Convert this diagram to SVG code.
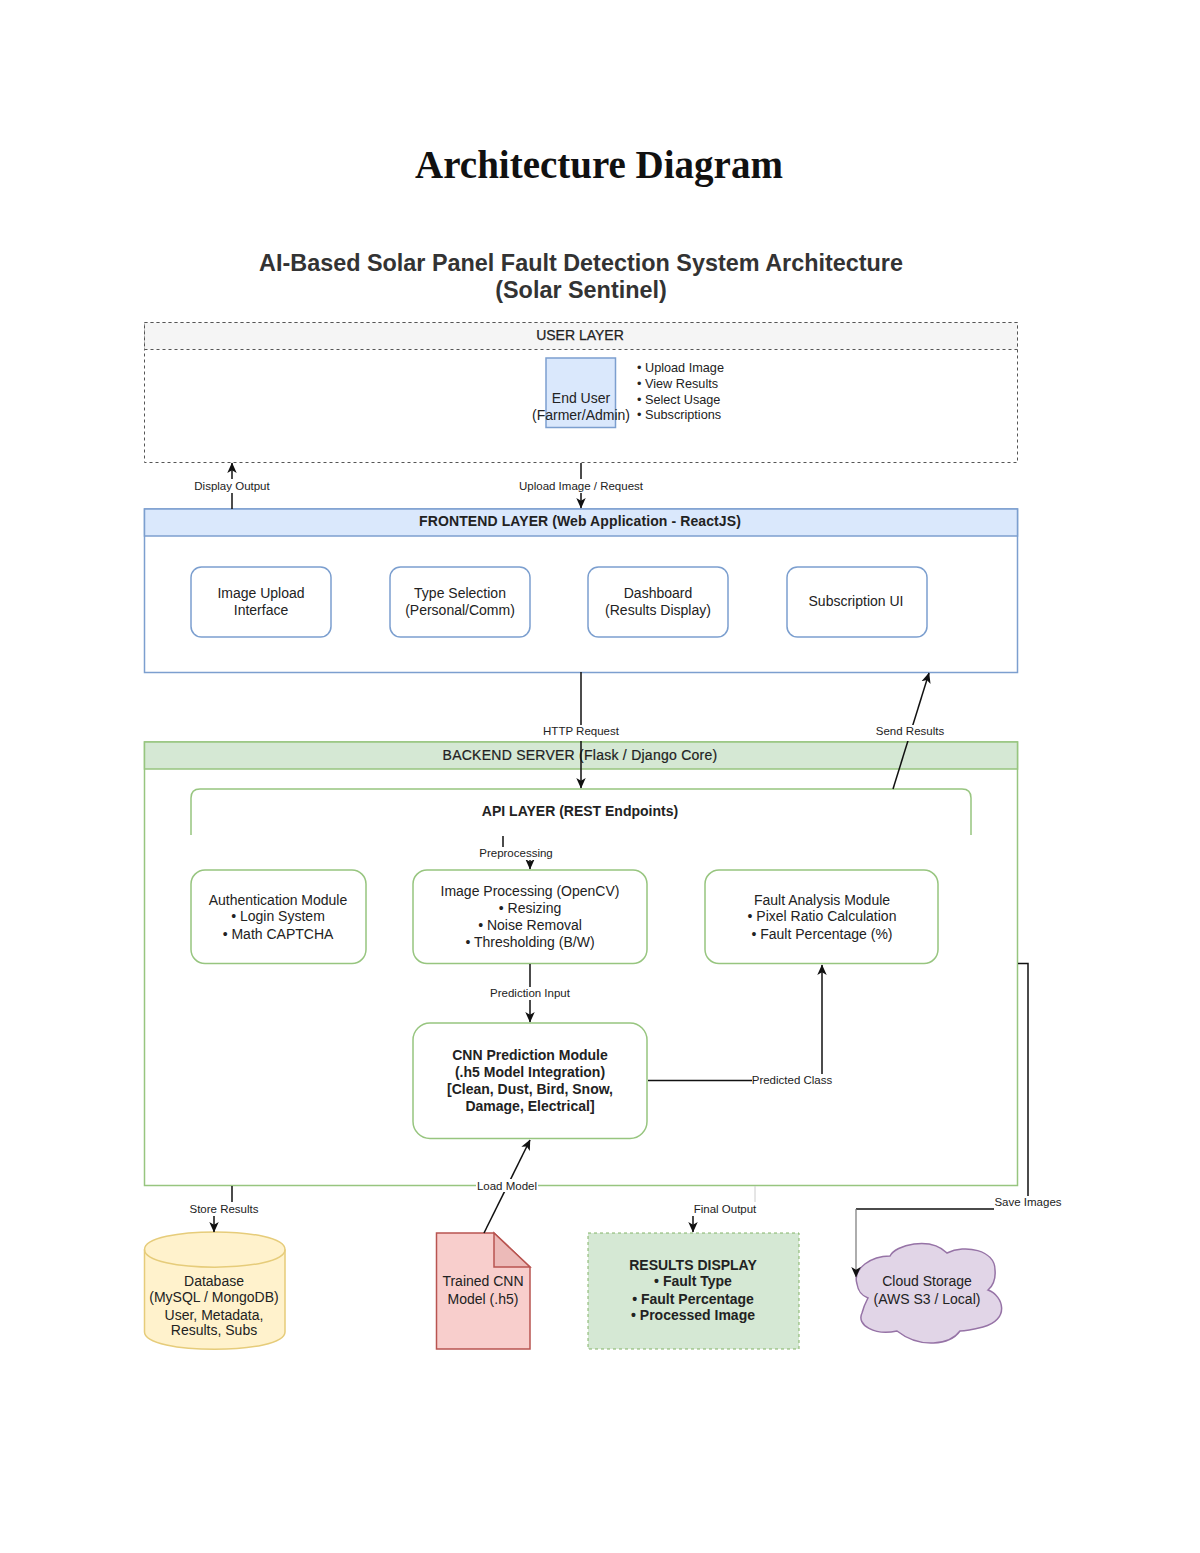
<svg xmlns="http://www.w3.org/2000/svg" width="1200" height="1553" viewBox="0 0 1200 1553">
<style>
text{font-family:"Liberation Sans",Arial,sans-serif;fill:#222;text-anchor:middle}
.t{font-size:14px}
.b{font-size:14px;font-weight:bold}
.l{font-size:11.5px}
.s{font-size:12.700px;text-anchor:start}
.lab{fill:#fff;stroke:none}
.c{fill:none;stroke:#111;stroke-width:1.5;marker-end:url(#a)}
.n{fill:none;stroke:#111;stroke-width:1.5}
.bl{fill:#fff;stroke:#7c9fcf;stroke-width:1.5}
.gr{fill:#fff;stroke:#97c57f;stroke-width:1.5}
</style>
<defs>
<marker id="a" viewBox="0 0 10 10" refX="9.500" refY="5" markerWidth="10.500" markerHeight="10.500" orient="auto" markerUnits="userSpaceOnUse"><path d="M0 0.500L10 5L0 9.500L2.500 5Z" fill="#111"/></marker>
</defs>
<rect width="1200" height="1553" fill="#fff"/>
<text x="599" y="178" style="font-family:'Liberation Serif',serif;font-size:39px;font-weight:bold;fill:#111">Architecture Diagram</text>
<text x="581" y="271" style="font-size:23.400px;font-weight:bold;fill:#333">AI-Based Solar Panel Fault Detection System Architecture</text>
<text x="581" y="298" style="font-size:23.400px;font-weight:bold;fill:#333">(Solar Sentinel)</text>

<g id="user-layer">
<rect x="144.500" y="322.500" width="873" height="140" fill="#fff" stroke="#555" stroke-dasharray="3 3"/>
<rect x="144.500" y="322.500" width="873" height="27" fill="#f5f5f5" stroke="#555" stroke-dasharray="3 3"/>
<text class="t" x="580" y="340" style="font-weight:500;stroke:#222;stroke-width:.25">USER LAYER</text>
</g>
<g id="end-user">
<rect x="546" y="358" width="69.500" height="69.500" fill="#dae8fc" stroke="#7c9fcf" stroke-width="1.500"/>
<text class="t" x="581" y="403">End User</text>
<text class="t" x="581" y="420">(Farmer/Admin)</text>
</g>
<g id="user-actions">
<text class="s" x="637" y="372">• Upload Image</text>
<text class="s" x="637" y="388">• View Results</text>
<text class="s" x="637" y="404">• Select Usage</text>
<text class="s" x="637" y="419">• Subscriptions</text>
</g>

<g id="frontend-layer">
<rect class="bl" x="144.500" y="509" width="873" height="163.500"/>
<rect x="144.500" y="509" width="873" height="27" fill="#dae8fc" stroke="#7c9fcf" stroke-width="1.500"/>
<text class="b" x="580" y="526" style="letter-spacing:.1px">FRONTEND LAYER (Web Application - ReactJS)</text>
</g>
<g id="image-upload"><rect class="bl" x="191" y="567" width="140" height="70" rx="10.500"/><text class="t" x="261" y="598">Image Upload</text><text class="t" x="261" y="615">Interface</text></g>
<g id="type-selection"><rect class="bl" x="390" y="567" width="140" height="70" rx="10.500"/><text class="t" x="460" y="598">Type Selection</text><text class="t" x="460" y="615">(Personal/Comm)</text></g>
<g id="dashboard"><rect class="bl" x="588" y="567" width="140" height="70" rx="10.500"/><text class="t" x="658" y="598">Dashboard</text><text class="t" x="658" y="615">(Results Display)</text></g>
<g id="subscription-ui"><rect class="bl" x="787" y="567" width="140" height="70" rx="10.500"/><text class="t" x="856" y="606">Subscription UI</text></g>

<g id="backend-server">
<rect class="gr" x="144.500" y="742" width="873" height="443.500"/>
<rect x="144.500" y="742" width="873" height="27" fill="#d5e8d4" stroke="#97c57f" stroke-width="1.500"/>
<text class="t" x="580" y="760" style="letter-spacing:.25px;stroke:#222;stroke-width:.2">BACKEND SERVER (Flask / Django Core)</text>
</g>
<g id="api-layer"><path class="gr" d="M191 835V798Q191 789 200 789H962Q971 789 971 798V835" style="fill:none"/><text class="b" x="580" y="816">API LAYER (REST Endpoints)</text></g>
<g id="auth-module"><rect class="gr" x="191" y="870" width="175" height="93.500" rx="14"/><text class="t" x="278" y="905">Authentication Module</text><text class="t" x="278" y="921">• Login System</text><text class="t" x="278" y="939">• Math CAPTCHA</text></g>
<g id="image-processing"><rect class="gr" x="413" y="870" width="234" height="93.500" rx="14"/><text class="t" x="530" y="896">Image Processing (OpenCV)</text><text class="t" x="530" y="913">• Resizing</text><text class="t" x="530" y="930">• Noise Removal</text><text class="t" x="530" y="947">• Thresholding (B/W)</text></g>
<g id="fault-analysis"><rect class="gr" x="705" y="870" width="233" height="93.500" rx="14"/><text class="t" x="822" y="905">Fault Analysis Module</text><text class="t" x="822" y="921">• Pixel Ratio Calculation</text><text class="t" x="822" y="939">• Fault Percentage (%)</text></g>
<g id="cnn-prediction"><rect class="gr" x="413" y="1023" width="234" height="115.500" rx="17"/><text class="b" x="530" y="1060">CNN Prediction Module</text><text class="b" x="530" y="1077">(.h5 Model Integration)</text><text class="b" x="530" y="1094">[Clean, Dust, Bird, Snow,</text><text class="b" x="530" y="1111">Damage, Electrical]</text></g>

<g id="database">
<path d="M144.500 1249.500C144.500 1226 285 1226 285 1249.500V1332C285 1355 144.500 1355 144.500 1332Z" fill="#fff2cc" stroke="#e6cc7a" stroke-width="1.500"/>
<path d="M144.500 1249.500C144.500 1273 285 1273 285 1249.500" fill="none" stroke="#e6cc7a" stroke-width="1.500"/>
<text class="t" x="214" y="1286">Database</text><text class="t" x="214" y="1302">(MySQL / MongoDB)</text><text class="t" x="214" y="1320">User, Metadata,</text><text class="t" x="214" y="1335">Results, Subs</text>
</g>
<g id="trained-model">
<path d="M436.500 1233H494L530 1267V1349H436.500Z" fill="#f8cecc" stroke="#b85450" stroke-width="1.500"/>
<path d="M494 1233L530 1267H494Z" fill="#ecbab8" stroke="#b85450" stroke-width="1.500"/>
<text class="t" x="483" y="1286">Trained CNN</text><text class="t" x="483" y="1304">Model (.h5)</text>
</g>
<g id="results-display">
<rect x="588" y="1233" width="211" height="116" fill="#d5e8d4" stroke="#82b366" stroke-dasharray="3 3"/>
<text class="b" x="693" y="1270">RESULTS DISPLAY</text><text class="b" x="693" y="1286">• Fault Type</text><text class="b" x="693" y="1304">• Fault Percentage</text><text class="b" x="693" y="1320">• Processed Image</text>
</g>
<g id="cloud-storage">
<path d="M857 1284C852 1268 872 1256 890 1256C895 1245 930 1236 947 1253C965 1244 995 1250 995 1270C996 1280 992 1287 988 1290C1004 1296 1010 1320 983 1327C975 1329 967 1331 960 1331C950 1345 920 1349 897 1331C875 1336 856 1325 862 1313C864 1305 867 1300 868 1298C860 1295 858 1290 857 1284Z" fill="#e1d5e7" stroke="#9673a6" stroke-width="1.500"/>
<text class="t" x="927" y="1286">Cloud Storage</text><text class="t" x="927" y="1304">(AWS S3 / Local)</text>
</g>

<g id="connectors">
<path class="c" d="M232 509V463"/>
<path class="c" d="M581 463V508"/>
<path class="c" d="M581 672V788"/>
<path class="c" d="M893 789L929 673"/>
<path class="c" d="M503 836V853H530V869"/>
<path class="c" d="M530 964V1022"/>
<path class="n" d="M648 1080.500H822"/>
<path class="c" d="M822 1080.500V965"/>
<path class="c" d="M484 1233L530 1140"/>
<path class="c" d="M232 1186V1209H214V1232"/>
<path d="M755 1186V1209" fill="none" stroke="#ccc"/>
<path class="c" d="M755 1209H693V1232" />
<path class="n" d="M1018 963.500H1028V1209H856"/>
<path d="M856 1209V1277" fill="none" stroke="#777" stroke-width="1.200" marker-end="url(#a)"/>
<g id="labels">
<rect class="lab" x="190" y="479" width="84" height="14"/><text class="l" x="232" y="490">Display Output</text>
<rect class="lab" x="516" y="479" width="130" height="14"/><text class="l" x="581" y="490">Upload Image / Request</text>
<rect class="lab" x="541" y="725" width="81" height="16"/><text class="l" x="581" y="735">HTTP Request</text>
<rect class="lab" x="874" y="725" width="72" height="16"/><text class="l" x="910" y="735">Send Results</text>
<rect class="lab" x="478" y="847" width="78" height="13"/><text class="l" x="516" y="857">Preprocessing</text>
<rect class="lab" x="488" y="987" width="84" height="13"/><text class="l" x="530" y="997">Prediction Input</text>
<rect class="lab" x="752" y="1074" width="82" height="13"/><text class="l" x="792" y="1084">Predicted Class</text>
<rect class="lab" x="476" y="1179" width="62" height="13"/><text class="l" x="507" y="1190">Load Model</text>
<rect class="lab" x="187" y="1202" width="74" height="14"/><text class="l" x="224" y="1213">Store Results</text>
<rect class="lab" x="692" y="1202" width="66" height="14"/><text class="l" x="725" y="1213">Final Output</text>
<rect class="lab" x="994" y="1196" width="70" height="14"/><text class="l" x="1028" y="1206">Save Images</text>
</g>
</g>
</svg>
